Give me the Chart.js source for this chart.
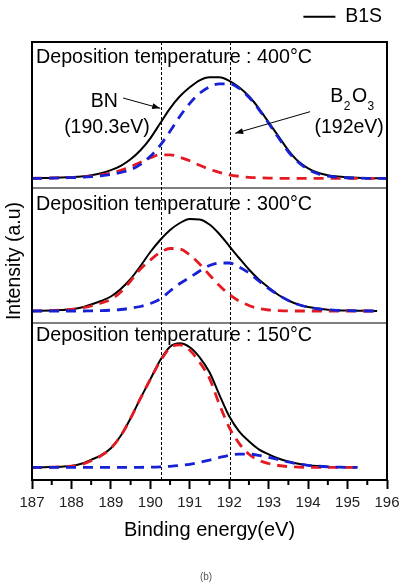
<!DOCTYPE html>
<html>
<head>
<meta charset="utf-8">
<script src="https://cdn.jsdelivr.net/npm/chart.js@4.4.1/dist/chart.umd.min.js"></script>
<style>
  html, body { margin: 0; padding: 0; background: #fff; }
  #wrap { width: 406px; height: 583px; }
</style>
</head>
<body>
<div id="wrap"><canvas id="chart"></canvas></div>
<script>
// Binding energy grid (eV)
const energy = [187, 187.25, 187.5, 187.75, 188, 188.25, 188.5, 188.75, 189, 189.25, 189.5, 189.75,
  190, 190.25, 190.5, 190.75, 191, 191.25, 191.5, 191.75, 192, 192.25, 192.5, 192.75,
  193, 193.25, 193.5, 193.75, 194, 194.25, 194.5, 194.75, 195, 195.25, 195.5, 195.75, 196];

// 400°C
const total400 = [0, 0.2, 0.5, 0.8, 1.2, 1.8, 3, 5, 8.2, 12.5, 19, 28, 40, 55, 70, 82, 91, 98, 101, 101,
  97.5, 91, 82, 70, 56, 42, 28, 17, 10, 5.5, 3, 1.7, 1, 0.5, 0.2, 0, 0];
const bn400 = [0, 0.1, 0.3, 0.5, 0.8, 1.2, 2.2, 3.5, 5.2, 8, 11.5, 16, 20.5, 23.5, 23.5, 21, 17.5, 13, 9, 6,
  3.5, 2, 1, 0.5, 0.2, 0, 0, 0, 0, 0, 0, 0, 0, 0, 0, 0, 0];
const oxide400 = [0, 0, 0.2, 0.4, 0.7, 1, 1.6, 2.5, 3.8, 5.8, 8.5, 14, 22, 33, 47, 62, 75, 85, 91.5, 94.5,
  94.5, 90, 81, 69, 55, 40.5, 26.5, 16, 9, 4.5, 2.2, 1, 0.5, 0.2, 0, 0, 0];

// 300°C
const total300 = [0, 0.2, 0.5, 0.9, 1.7, 3.5, 6.5, 10, 14.5, 22, 32, 45, 59, 71, 81, 88, 92, 91.5, 86.5, 77,
  65, 53, 41.5, 31.5, 23.5, 16, 10.5, 6.5, 4, 2.5, 1.3, 0.8, 0.5, 0.3, 0.2, 0];
const bn300 = [0, 0.2, 0.4, 0.9, 1.7, 3, 5, 8, 11.5, 19, 30, 42, 51, 58.5, 62.5, 62, 56, 47, 36, 25.5,
  16.5, 10, 5.5, 2.5, 1, 0.4, 0.1, 0, 0, 0, 0, 0, 0, 0, 0, 0];
const oxide300 = [0, 0, 0, 0, 0, 0, 0.2, 0.4, 0.8, 1.5, 2.8, 4.5, 7.5, 12, 20, 27.5, 33.5, 40, 45.5, 48,
  48, 44, 38, 30, 22.5, 16, 10.5, 6.5, 3.8, 2.2, 1.2, 0.6, 0.3, 0.1, 0, 0];

// 150°C
const total150 = [0, 0, 0.3, 0.6, 1.3, 3.5, 7.5, 12, 19, 31.5, 49, 69, 88, 107, 120.5, 124, 120, 110, 95, 72.5,
  51, 36, 26, 18, 13, 8.8, 5.8, 3.5, 2.1, 1.2, 0.6, 0.3, 0.1, 0];
const bn150 = [0, 0, 0.2, 0.5, 1.1, 2.8, 6.5, 11.5, 19, 31.5, 49, 69, 88, 106, 119.5, 122.5, 117, 105, 89, 63,
  40, 24, 13, 7, 3.8, 1.8, 0.7, 0.2, 0, 0, 0, 0, 0, 0];
const oxide150 = [0, 0, 0, 0, 0, 0, 0, 0, 0, 0, 0, 0, 0.2, 0.5, 1, 1.8, 3, 5, 7.2, 9.8,
  12, 13.2, 13.2, 12, 10, 7.6, 5.3, 3.4, 2, 1.1, 0.5, 0.2, 0, 0];

// peak positions marked with dotted lines (BN, B2O3)
const refEnergies = [190.27, 192.03];
const panelTitles = ['Deposition temperature : 400°C', 'Deposition temperature : 300°C', 'Deposition temperature : 150°C'];

const FONT = "'Liberation Sans', Arial, sans-serif";
const RED = 'rgb(228,26,34)';
const BLUE = 'rgb(22,32,212)';

function pts(values) {
    return values.map((v, i) => ({ x: energy[i], y: v }));
}

function series(label, values, axis, kind) {
    const ds = {
        label: label,
        data: pts(values),
        yAxisID: axis,
        pointRadius: 0,
        cubicInterpolationMode: 'monotone',
        fill: false
    };
    if (kind === 'total') {
        ds.borderColor = '#000';
        ds.borderWidth = 2;
        ds.order = 3;
    } else {
        ds.borderColor = kind === 'bn' ? RED : BLUE;
        ds.borderWidth = 2.8;
        ds.borderDash = [10, 7];
        ds.order = kind === 'bn' ? 2 : 1;
    }
    return ds;
}

function arrow(ctx, x1, y1, x2, y2) {
    ctx.beginPath();
    ctx.moveTo(x1, y1);
    ctx.lineTo(x2, y2);
    ctx.stroke();
    const ang = Math.atan2(y2 - y1, x2 - x1), L = 8, W = 3;
    ctx.beginPath();
    ctx.moveTo(x2, y2);
    ctx.lineTo(x2 - L * Math.cos(ang) + W * Math.sin(ang), y2 - L * Math.sin(ang) - W * Math.cos(ang));
    ctx.lineTo(x2 - L * Math.cos(ang) - W * Math.sin(ang), y2 - L * Math.sin(ang) + W * Math.cos(ang));
    ctx.closePath();
    ctx.fill();
}

// frame, panel dividers, dotted lines, minor ticks and labels
const decor = {
    id: 'decor',
    beforeDatasetsDraw(chart) {
        const { ctx, chartArea: a, scales } = chart;
        ctx.save();
        ctx.strokeStyle = '#000';
        ctx.lineWidth = 1;
        ctx.setLineDash([3, 2]);
        refEnergies.forEach(e => {
            const x = Math.round(scales.x.getPixelForValue(e)) + 0.5;
            ctx.beginPath();
            ctx.moveTo(x, a.top);
            ctx.lineTo(x, a.bottom);
            ctx.stroke();
        });
        ctx.restore();
    },
    afterDatasetsDraw(chart) {
        const { ctx, chartArea: a, scales } = chart;
        const sx = scales.x, yT = scales.yTop;
        const at = (e, v) => [sx.getPixelForValue(e), yT.getPixelForValue(v)];
        ctx.save();
        ctx.strokeStyle = '#000';
        ctx.fillStyle = '#000';

        // panel dividers
        ctx.lineWidth = 1.2;
        [scales.yTop.bottom, scales.yMid.bottom].forEach(y => {
            ctx.beginPath();
            ctx.moveTo(a.left, y);
            ctx.lineTo(a.right, y);
            ctx.stroke();
        });
        // frame
        ctx.lineWidth = 2;
        ctx.strokeRect(a.left, a.top, a.right - a.left, a.bottom - a.top);

        // minor ticks
        for (let v = sx.min + 0.5; v < sx.max; v += 1) {
            const x = sx.getPixelForValue(v);
            ctx.beginPath();
            ctx.moveTo(x, a.bottom);
            ctx.lineTo(x, a.bottom + 5);
            ctx.stroke();
        }

        // panel titles
        ctx.font = '19.7px ' + FONT;
        ctx.textAlign = 'left';
        ctx.textBaseline = 'alphabetic';
        const offs = [21, 22, 18];
        ['yTop', 'yMid', 'yBot'].forEach((id, i) => {
            ctx.fillText(panelTitles[i], a.left + 4, scales[id].top + offs[i]);
        });

        // BN note
        ctx.font = '19.5px ' + FONT;
        ctx.textAlign = 'center';
        let p = at(188.83, 71.3);
        ctx.fillText('BN', p[0], p[1]);
        p = at(188.9, 45.4);
        ctx.fillText('(190.3eV)', p[0], p[1]);
        // B2O3 note
        p = at(195.04, 45.4);
        ctx.fillText('(192eV)', p[0], p[1]);
        p = at(194.56, 76.6);
        ctx.textAlign = 'left';
        let x = p[0];
        const parts = [['B', 0], ['2', 1], ['O', 0], ['3', 1]];
        parts.forEach(([t, sub]) => {
            ctx.font = (sub ? '12px ' : '19.5px ') + FONT;
            ctx.fillText(t, x, p[1] + (sub ? 8 : 0));
            x += ctx.measureText(t).width + (sub ? 1.5 : 0.5);
        });

        // arrows
        ctx.lineWidth = 1;
        let s = at(189.31, 80.3), e = at(190.25, 70);
        arrow(ctx, s[0], s[1], e[0], e[1]);
        s = at(194.05, 66.6); e = at(192.15, 45);
        arrow(ctx, s[0], s[1], e[0], e[1]);

        // y title
        ctx.save();
        ctx.translate(15, (a.top + a.bottom) / 2);
        ctx.rotate(-Math.PI / 2);
        ctx.font = '19.5px ' + FONT;
        ctx.textAlign = 'center';
        ctx.textBaseline = 'middle';
        ctx.fillText('Intensity (a.u)', 0, 0);
        ctx.restore();

        // caption
        ctx.font = '10px ' + FONT;
        ctx.fillStyle = '#555';
        ctx.textAlign = 'center';
        ctx.textBaseline = 'middle';
        ctx.fillText('(b)', 206, 577);
        ctx.restore();
    }
};

function panelAxis(min, max, weight, order) {
    return {
        type: 'linear',
        position: 'left',
        stack: 'panels',
        stackWeight: weight,
        weight: order,
        min: min,
        max: max,
        ticks: { display: false },
        grid: { display: false, drawTicks: false },
        border: { display: false }
    };
}

Chart.defaults.font.family = FONT;

new Chart(document.getElementById('chart'), {
    type: 'line',
    data: {
        datasets: [
            series('B1S', total400, 'yTop', 'total'),
            series('BN', bn400, 'yTop', 'bn'),
            series('B2O3', oxide400, 'yTop', 'ox'),
            series('B1S', total300, 'yMid', 'total'),
            series('BN', bn300, 'yMid', 'bn'),
            series('B2O3', oxide300, 'yMid', 'ox'),
            series('B1S', total150, 'yBot', 'total'),
            series('BN', bn150, 'yBot', 'bn'),
            series('B2O3', oxide150, 'yBot', 'ox')
        ]
    },
    options: {
        responsive: true,
        maintainAspectRatio: false,
        animation: false,
        layout: { padding: { left: 32, right: 19, top: 2, bottom: 0 } },
        plugins: {
            tooltip: { enabled: false },
            legend: {
                position: 'top',
                align: 'end',
                labels: {
                    font: { size: 19.5 },
                    color: '#000',
                    boxWidth: 32,
                    boxHeight: 2,
                    padding: 5,
                    generateLabels: () => [{
                        text: 'B1S', fillStyle: '#000', strokeStyle: '#000',
                        lineWidth: 0, hidden: false, datasetIndex: 0
                    }]
                }
            }
        },
        scales: {
            x: {
                type: 'linear',
                position: 'bottom',
                min: 187,
                max: 196,
                ticks: { stepSize: 1, color: '#222', font: { size: 15 }, padding: 5, maxRotation: 0 },
                grid: { drawOnChartArea: false, tickLength: 9, tickWidth: 2, tickColor: '#000' },
                border: { display: false },
                title: { display: true, text: 'Binding energy(eV)', color: '#000', font: { size: 20 }, padding: { top: 0, bottom: 41 } },
                afterFit: (scale) => { scale.height = 103; }
            },
            xTop: {
                type: 'linear',
                position: 'top',
                ticks: { display: false },
                grid: { display: false, drawTicks: false },
                border: { display: false },
                afterFit: (scale) => { scale.height = 5.5; }
            },
            yTop: panelAxis(-9.7, 136.3, 146, 3),
            yMid: panelAxis(-12, 123, 135, 2),
            yBot: panelAxis(-12.7, 144.3, 157, 1)
        }
    },
    plugins: [decor]
});
</script>
</body>
</html>
